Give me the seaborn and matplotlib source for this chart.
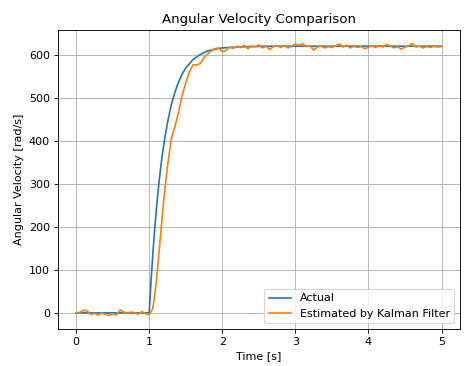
import numpy as np
import pandas as pd
import matplotlib
matplotlib.use("Agg")
import matplotlib.pyplot as plt
import seaborn as sns

# actual angular velocity
t_actual = [0.0, 1.0, 1.025, 1.05, 1.075, 1.1, 1.125, 1.15, 1.175, 1.2,
            1.25, 1.3, 1.35, 1.4, 1.45, 1.5, 1.6, 1.7, 1.8, 1.9, 2.0,
            2.2, 2.4, 2.6, 3.0, 4.0, 5.0]
w_actual = [0, 0, 73, 137, 194, 244, 288, 327, 362, 392,
            442, 482, 512, 536, 555, 569, 589, 601, 609, 613, 616,
            618, 619, 620, 620, 620, 620]

# Kalman filter estimate, every 0.05 s
t_est = [round(i * 0.05, 2) for i in range(101)]
w_est = [0, 1, 6, 5, -4, -1, -5, 0, -3, -6,
         -2, -5, 7, 2, -1, 2, 0, -3, 3, -2,
         -4, 10, 75, 170, 265, 340, 403, 432, 465, 505,
         535, 560, 577, 576, 580, 594, 602, 609, 614, 616,
         607, 610, 618, 615, 620, 617, 622, 614, 621, 618,
         623, 616, 620, 612, 619, 621, 617, 622, 616, 620,
         625, 622, 626, 619, 621, 611, 618, 620, 616, 619,
         617, 621, 625, 618, 622, 616, 620, 617, 619, 614,
         618, 620, 617, 622, 618, 624, 620, 616, 619, 613,
         618, 621, 626, 618, 620, 616, 619, 617, 620, 618,
         619]

df_actual = pd.DataFrame({"t": t_actual, "w": w_actual})
df_est = pd.DataFrame({"t": t_est, "w": w_est})

fig, ax = plt.subplots(figsize=(474 / 80, 366 / 80), dpi=80)
sns.lineplot(data=df_actual, x="t", y="w", ax=ax, label="Actual", color="C0")
sns.lineplot(data=df_est, x="t", y="w", ax=ax, label="Estimated by Kalman Filter", color="C1")

ax.set_title("Angular Velocity Comparison")
ax.set_xlabel("Time [s]")
ax.set_ylabel("Angular Velocity [rad/s]")
ax.grid(True)
ax.legend(loc="lower right")

plt.subplots_adjust(left=0.122, right=0.970, bottom=0.101, top=0.918)
plt.savefig("out.png", dpi=80)
